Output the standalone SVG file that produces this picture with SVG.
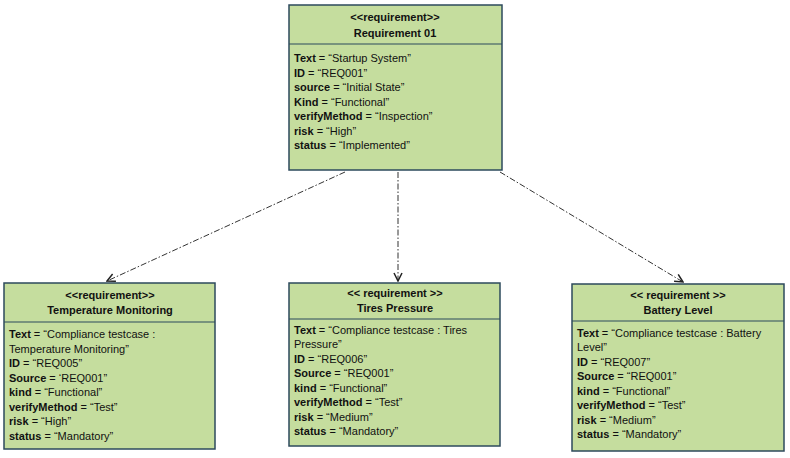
<svg xmlns="http://www.w3.org/2000/svg" width="790" height="458" viewBox="0 0 790 458">
<style>
.box{fill:#c5dd9e;stroke:#2d4a5c;stroke-width:1.5}
.div{stroke:#2d4a5c;stroke-width:1.2}
text{font-family:"Liberation Sans",Arial,sans-serif;font-size:11px;fill:#111}
.t{text-anchor:middle;font-weight:bold}
.b{font-weight:bold}
.c{fill:none;stroke:#333;stroke-width:1;stroke-dasharray:6,2,1.5,2}
.sq{fill:none;stroke:#e03030;stroke-width:0.6;stroke-dasharray:1.5,1}
</style>
<defs><marker id="a" markerWidth="10" markerHeight="10" refX="9" refY="5" orient="auto" markerUnits="userSpaceOnUse"><path d="M1,1 L9,5 L1,9" fill="none" stroke="#222" stroke-width="1.5"/></marker></defs>
<g id="connectors">
<line class="c" x1="345" y1="172" x2="107" y2="281" marker-end="url(#a)"/>
<line class="c" x1="398" y1="172" x2="398" y2="281" marker-end="url(#a)"/>
<line class="c" x1="500" y1="172" x2="683" y2="282" marker-end="url(#a)"/>
</g>
<g id="req01">
<rect class="box" x="289" y="5" width="213" height="165"/>
<line class="div" x1="289" y1="44" x2="502" y2="44"/>
<text class="t" x="395" y="21">&lt;&lt;requirement&gt;&gt;</text>
<text class="t" x="395" y="37">Requirement 01</text>
<text x="294" y="62"><tspan class="b">Text</tspan> = “Startup System”</text>
<text x="294" y="77"><tspan class="b">ID</tspan> = “REQ001”</text>
<text x="294" y="91"><tspan class="b">source</tspan> =  “Initial State”</text>
<text x="294" y="106"><tspan class="b">Kind</tspan> = “Functional”</text>
<text x="294" y="120"><tspan class="b">verifyMethod</tspan> = “Inspection”</text>
<text x="294" y="135"><tspan class="b">risk</tspan> = “High”</text>
<text x="294" y="149"><tspan class="b">status</tspan> = “Implemented”</text>
</g>
<g id="req05">
<rect class="box" x="4" y="283" width="211" height="166"/>
<line class="div" x1="4" y1="322" x2="215" y2="322"/>
<text class="t" x="110" y="299">&lt;&lt;requirement&gt;&gt;</text>
<text class="t" x="110" y="314">Temperature Monitoring</text>
<text x="9" y="338"><tspan class="b">Text</tspan> = “Compliance testcase :</text>
<text x="9" y="353">Temperature Monitoring”</text>
<text x="9" y="367"><tspan class="b">ID</tspan> = “REQ005”</text>
<text x="9" y="382"><tspan class="b">Source</tspan> =  ‘REQ001”</text>
<text x="9" y="396"><tspan class="b">kind</tspan> = “Functional”</text>
<text x="9" y="411"><tspan class="b">verifyMethod</tspan> = “Test”</text>
<text x="9" y="425"><tspan class="b">risk</tspan> = “High”</text>
<text x="9" y="440"><tspan class="b">status</tspan> = “Mandatory”</text>
</g>
<g id="req06">
<rect class="box" x="289" y="283" width="211" height="163"/>
<line class="div" x1="289" y1="319" x2="500" y2="319"/>
<text class="t" x="395" y="297">&lt;&lt; requirement &gt;&gt;</text>
<text class="t" x="395" y="312">Tires Pressure</text>
<text x="294" y="334"><tspan class="b">Text</tspan> = “Compliance testcase : Tires</text>
<text x="294" y="348">Pressure”</text>
<text x="294" y="363"><tspan class="b">ID</tspan> = “REQ006”</text>
<text x="294" y="377"><tspan class="b">Source</tspan> =  “REQ001”</text>
<text x="294" y="392"><tspan class="b">kind</tspan> = “Functional”</text>
<text x="294" y="406"><tspan class="b">verifyMethod</tspan> = “Test”</text>
<text x="294" y="421"><tspan class="b">risk</tspan> = “Medium”</text>
<text x="294" y="435"><tspan class="b">status</tspan> = “Mandatory”</text>
</g>
<g id="req07">
<rect class="box" x="572" y="284" width="212" height="167"/>
<line class="div" x1="572" y1="321" x2="784" y2="321"/>
<text class="t" x="678" y="299">&lt;&lt; requirement &gt;&gt;</text>
<text class="t" x="678" y="314">Battery Level</text>
<text x="577" y="337"><tspan class="b">Text</tspan> = “Compliance testcase : Battery</text>
<text x="577" y="351">Level”</text>
<text x="577" y="366"><tspan class="b">ID</tspan> = “REQ007”</text>
<text x="577" y="380"><tspan class="b">Source</tspan> = “REQ001”</text>
<text x="577" y="395"><tspan class="b">kind</tspan> = “Functional”</text>
<text x="577" y="409"><tspan class="b">verifyMethod</tspan> = “Test”</text>
<text x="577" y="424"><tspan class="b">risk</tspan> = “Medium”</text>
<text x="577" y="438"><tspan class="b">status</tspan> = “Mandatory”</text>
</g>
</svg>
